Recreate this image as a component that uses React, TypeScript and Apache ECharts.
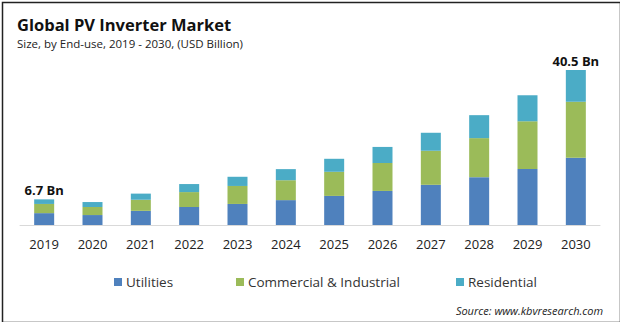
import React, { useEffect, useRef } from "react";
import * as echarts from "echarts";

const years = ["2019", "2020", "2021", "2022", "2023", "2024", "2025", "2026", "2027", "2028", "2029", "2030"];
const utilities = [3.1, 2.6, 3.7, 4.7, 5.5, 6.5, 7.6, 8.9, 10.5, 12.5, 14.6, 17.6];
const commercial = [2.4, 2.1, 2.9, 3.9, 4.7, 5.2, 6.3, 7.3, 8.9, 10.2, 12.5, 14.6];
const residential = [1.2, 1.3, 1.6, 2.1, 2.4, 2.9, 3.4, 4.2, 4.7, 6.0, 6.8, 8.3];
const seriesNames = ["Utilities", "Commercial & Industrial", "Residential"];
const totalLabels: Record<number, string> = { 0: "6.7 Bn", 11: "40.5 Bn" };

const FONT = "'Open Sans', 'Noto Sans', sans-serif";

export default function App() {
  const ref = useRef<HTMLDivElement>(null);
  useEffect(() => {
    document.body.style.margin = "0";
    if (!ref.current) return;
    const chart = echarts.init(ref.current, undefined, { renderer: "svg" });
    const resData = residential.map((v, i) =>
      totalLabels[i]
        ? {
            value: v,
            label: {
              show: true,
              position: "top",
              formatter: totalLabels[i],
              fontFamily: FONT,
              fontWeight: "bold",
              fontSize: 13,
              color: "#111",
              distance: 3,
            },
          }
        : v
    );
    const legendLefts = [109, 231, 451];
    chart.setOption({
      animation: false,
      backgroundColor: "#fff",
      textStyle: { fontFamily: FONT },
      title: [
        {
          text: "Global PV Inverter Market",
          left: 17,
          top: 14,
          padding: 0,
          textStyle: { fontFamily: FONT, fontSize: 16.5, fontWeight: "bold", color: "#111", lineHeight: 20 },
        },
        {
          text: "Size, by End-use, 2019 - 2030, (USD Billion)",
          left: 17,
          top: 36,
          padding: 0,
          textStyle: { fontFamily: FONT, fontSize: 11.5, fontWeight: "normal", color: "#222", lineHeight: 15 },
        },
      ],
      legend: seriesNames.map((n, i) => ({
        bottom: 28,
        left: legendLefts[i],
        itemWidth: 8,
        itemHeight: 8,
        icon: "rect",
        textStyle: { fontFamily: FONT, fontSize: 13.5, color: "#333", padding: [0, 0, 0, -1] },
        data: [n],
      })),
      grid: { left: 20, right: 20, top: 70, bottom: 97, containLabel: false },
      xAxis: {
        type: "category",
        data: years,
        axisLine: { lineStyle: { color: "#d9d9d9", width: 1 } },
        axisTick: { show: false },
        axisLabel: { fontFamily: FONT, fontSize: 13, color: "#222", margin: 12 },
      },
      yAxis: { type: "value", min: 0, max: 40.5, show: false, splitLine: { show: false } },
      series: [
        { name: seriesNames[0], type: "bar", stack: "t", barWidth: 20, data: utilities, itemStyle: { color: "#4f81bd" } },
        { name: seriesNames[1], type: "bar", stack: "t", barWidth: 20, data: commercial, itemStyle: { color: "#9bbb59" } },
        { name: seriesNames[2], type: "bar", stack: "t", barWidth: 20, data: resData, itemStyle: { color: "#4bacc6" } },
      ],
      graphic: [
        {
          type: "text",
          right: 17,
          bottom: 6,
          style: { text: "Source: www.kbvresearch.com", font: `italic 11px ${FONT}`, fill: "#222" },
        },
        {
          type: "rect",
          left: 0,
          top: 0,
          shape: { x: 0.5, y: 0.5, width: 618, height: 320 },
          style: { fill: "none", stroke: "#222", lineWidth: 1.5 },
          silent: true,
        },
      ],
    });
    return () => chart.dispose();
  }, []);
  return <div ref={ref} style={{ width: 620, height: 322 }} />;
}
